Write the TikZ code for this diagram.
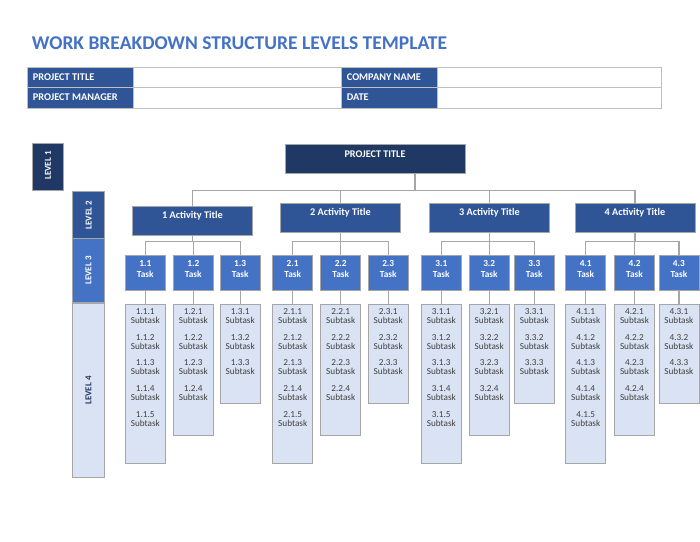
\documentclass[tikz,border=0pt]{standalone}
\usepackage{fontspec}
\setmainfont{Carlito}
\definecolor{navy}{HTML}{1F3864}
\definecolor{midblue}{HTML}{2F5597}
\definecolor{liteblue}{HTML}{4472C4}
\definecolor{paleblue}{HTML}{DAE3F3}
\definecolor{ttlblue}{HTML}{4472C4}
\definecolor{edgegray}{HTML}{A6A6A6}
\definecolor{tblgray}{HTML}{BFBFBF}
\definecolor{subgray}{HTML}{404040}
\tikzset{
  cell/.style={draw=tblgray, line width=0.8pt, inner sep=0pt, anchor=north west},
  labcell/.style={cell, fill=midblue},
  labtxt/.style={anchor=west, inner sep=0pt, text=white, font=\bfseries\fontsize{10.3}{11}\selectfont},
  lvlbox/.style={draw=edgegray, line width=0.8pt, inner sep=0pt, minimum width=31.7, anchor=north west},
  lvltxt/.style={rotate=90, inner sep=0pt, font=\bfseries\fontsize{9}{10}\selectfont},
  ptbox/.style={draw=edgegray, line width=0.8pt, fill=navy, inner sep=0pt, minimum width=180, minimum height=29.3},
  actbox/.style={draw=edgegray, line width=0.8pt, fill=midblue, inner sep=0pt, minimum width=120, minimum height=29},
  boxtxt/.style={inner sep=0pt, text=white, font=\bfseries\fontsize{10.2}{11}\selectfont},
  taskbox/.style={draw=edgegray, line width=0.8pt, fill=liteblue, inner sep=0pt, minimum width=40, minimum height=35},
  tasktxt/.style={inner sep=0pt, text=white, align=center, font=\bfseries\fontsize{9.3}{11}\selectfont},
  subbox/.style={draw=edgegray, line width=0.8pt, fill=paleblue, inner sep=0pt, minimum width=40},
  subtxt/.style={inner sep=0pt, text=subgray, align=center, font=\fontsize{9.2}{8.8}\selectfont},
  conn/.style={draw=edgegray, line width=1.2pt}
}
\begin{document}
\begin{tikzpicture}[x=1pt,y=-1pt]
\useasboundingbox[fill=white] (0,0) rectangle (700,541);

% title
\node[anchor=west, inner sep=0pt, text=ttlblue, font=\bfseries\fontsize{19.5}{22}\selectfont] (title) at (31.7,43) {WORK BREAKDOWN STRUCTURE LEVELS TEMPLATE};

% header table
\node[labcell, minimum width=106.6, minimum height=20.3] (h11) at (26.7,66.7) {};
\node[cell, minimum width=207.4, minimum height=20.3] (h12) at (133.3,66.7) {};
\node[labcell, minimum width=96, minimum height=20.3] (h13) at (340.7,66.7) {};
\node[cell, minimum width=224, minimum height=20.3] (h14) at (436.7,66.7) {};
\node[labcell, minimum width=106.6, minimum height=20.5] (h21) at (26.7,87) {};
\node[cell, minimum width=207.4, minimum height=20.5] (h22) at (133.3,87) {};
\node[labcell, minimum width=96, minimum height=20.5] (h23) at (340.7,87) {};
\node[cell, minimum width=224, minimum height=20.5] (h24) at (436.7,87) {};
\node[labtxt] (h11t) at ([xshift=6]h11.west) {PROJECT TITLE};
\node[labtxt] (h21t) at ([xshift=6]h21.west) {PROJECT MANAGER};
\node[labtxt] (h13t) at ([xshift=6]h13.west) {COMPANY NAME};
\node[labtxt] (h23t) at ([xshift=6]h23.west) {DATE};

% level bars
\node[lvlbox, fill=navy, minimum height=46.7] (L1) at (31.7,143.3) {};
\node[lvltxt, text=white] (L1t) at ([yshift=1.5]L1.center) {LEVEL 1};
\node[lvlbox, fill=midblue, minimum height=47.3] (L2) at (72.3,191) {};
\node[lvltxt, text=white] (L2t) at (L2.center) {LEVEL 2};
\node[lvlbox, fill=liteblue, minimum height=63.4] (L3) at (72.3,238.3) {};
\node[lvltxt, text=white] (L3t) at (L3.center) {LEVEL 3};
\node[lvlbox, fill=paleblue, minimum height=174.6] (L4) at (72.3,302.7) {};
\node[lvltxt, text=navy] (L4t) at (L4.center) {LEVEL 4};

% level 1
\node[ptbox] (pt) at (375,158.7) {};
\node[boxtxt] (ptt) at (375,154.5) {PROJECT TITLE};

% level 2
\node[actbox] (a1) at (192.5,221.3) {};
\node[boxtxt] (a1t) at (192.5,215.5) {1 Activity Title};
\node[actbox] (a2) at (340.5,217.8) {};
\node[boxtxt] (a2t) at (340.5,212.3) {2 Activity Title};
\node[actbox] (a3) at (489.5,217.8) {};
\node[boxtxt] (a3t) at (489.5,212.3) {3 Activity Title};
\node[actbox] (a4) at (635,217.8) {};
\node[boxtxt] (a4t) at (635,212.3) {4 Activity Title};

\coordinate (bus) at (415,190.7);
\draw[conn] (pt.south -| bus) -- (bus);
\draw[conn] (a1.north) -- (a1.north |- bus) -- (a4.north |- bus) -- (a4.north);
\draw[conn] (a2.north) -- (a2.north |- bus);
\draw[conn] (a3.north) -- (a3.north |- bus);

% level 3 and 4
\foreach \g/\t/\x/\n/\h in {1/1/145.3/5/158.5, 1/2/193.3/4/130.7, 1/3/240.2/3/99.3,
  2/1/292.7/5/158.5, 2/2/340.7/4/130.7, 2/3/388.2/3/99.3,
  3/1/441.3/5/158.5, 3/2/489.2/4/130.7, 3/3/534.3/3/99.3,
  4/1/585.7/5/158.5, 4/2/634.5/4/130.7, 4/3/678.9/3/99.3} {
  \node[taskbox] (t\g\t) at (\x,272.5) {};
  \node[tasktxt] (tt\g\t) at (\x,269.3) {\g.\t\\Task};
  \node[subbox, minimum height=\h, anchor=north] (s\g\t) at (\x,304) {};
  \draw[conn] (t\g\t.south) -- (s\g\t.north);
  \foreach \i in {1,...,\n} {
    \node[subtxt] (st\g\t\i) at (\x,{316+25.7*(\i-1)}) {\g.\t.\i\\Subtask};
  }
}

\coordinate (tb) at (0,241.7);
\foreach \g in {1,2,3,4} {
  \draw[conn] (a\g.south) -- (a\g.south |- tb);
  \draw[conn] (t\g1.north) -- (t\g1.north |- tb) -- (t\g3.north |- tb) -- (t\g3.north);
  \draw[conn] (t\g2.north) -- (t\g2.north |- tb);
}
\end{tikzpicture}
\end{document}
